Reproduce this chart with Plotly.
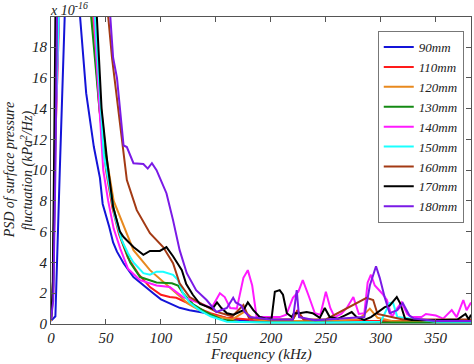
import plotly.graph_objects as go

# ---- data (frequency in kHz, PSD in units of 1e-16 kPa^2/Hz) ----
labels = ["90mm", "110mm", "120mm", "130mm", "140mm", "150mm", "160mm", "170mm", "180mm"]
colors = ["#1414d8", "#ff1a1a", "#e8891e", "#138a13", "#ff1aff", "#1affff", "#a33a14", "#000000", "#7a1ae6"]

x_90 = [0, 4, 8, 12.7, 18, 26.4, 32, 39, 44.5, 47, 53, 56.5, 60, 66, 75, 84, 93, 100, 108, 117, 126, 138, 150, 165, 180, 200, 250, 300, 350, 382]
y_90 = [0.2, 0.5, 10, 20.5, 40, 20, 15, 11.5, 9.5, 7.8, 6.3, 5.3, 4.7, 3.95, 3.05, 2.5, 2.0, 1.6, 1.35, 1.05, 0.9, 0.75, 0.55, 0.3, 0.2, 0.15, 0.12, 0.12, 0.12, 0.12]

x_110 = [0, 2, 4, 6, 20, 38, 44, 50, 56, 62, 70, 80, 90, 100, 108, 114, 124, 135, 145, 160, 180, 200, 220, 224, 230, 260, 300, 350, 382]
y_110 = [0.3, 3, 14, 24, 50, 20, 14, 10, 7.5, 5.8, 4.3, 3.2, 2.4, 1.9, 1.75, 1.7, 1.35, 1.0, 0.7, 0.4, 0.3, 0.25, 0.3, 0.9, 0.25, 0.2, 0.2, 0.2, 0.2]

x_120 = [0, 2, 4, 6, 20, 37, 44, 50, 57, 65.6, 75, 90, 100, 114, 125, 135, 150, 165, 176, 185, 200, 250, 280, 290, 297, 310, 350, 382]
y_120 = [0.2, 2, 12, 24, 50, 20, 15, 11, 8, 6.5, 4.8, 3.5, 2.85, 2.0, 1.3, 0.9, 0.5, 0.3, 0.8, 0.3, 0.2, 0.2, 0.3, 1.0, 0.4, 0.2, 0.15, 0.15]

x_130 = [0, 2, 4, 6, 20, 36.5, 44, 50, 57, 64, 72, 81, 96, 110, 115.5, 120, 129, 140, 155, 170, 200, 250, 300, 350, 382]
y_130 = [0.3, 3, 13, 24, 50, 20, 14, 10.5, 7.5, 5.5, 4.0, 3.05, 2.7, 2.65, 2.5, 2.0, 1.3, 0.8, 0.3, 0.15, 0.1, 0.1, 0.1, 0.1, 0.1]

x_140 = [0, 2, 4, 6, 20, 39, 47.5, 52, 57, 63, 70, 81, 96, 108, 120, 135.5, 146, 153.6, 158, 163, 169, 175, 179, 183, 187, 196, 208, 214, 220, 225, 229, 234, 240, 245, 250, 254, 258, 264, 269, 275, 280, 285, 288, 291, 294.5, 301, 305.5, 310, 315, 319, 324, 328, 337, 341, 350, 356.7, 364.5, 369, 375, 378, 382]
y_140 = [0.3, 2, 12, 24, 50, 20, 10, 8, 6.2, 4.9, 3.6, 2.85, 2.5, 2.4, 1.75, 1.35, 1.04, 2.0, 1.75, 1.04, 1.0, 3.0, 3.5, 2.5, 0.45, 0.45, 0.45, 0.6, 1.7, 2.1, 2.85, 1.9, 0.7, 0.6, 2.1, 1.04, 0.45, 0.65, 1.04, 1.75, 0.65, 0.7, 2.7, 3.2, 2.5, 2.0, 1.56, 0.45, 1.04, 1.4, 0.65, 0.45, 0.45, 0.65, 0.55, 0.35, 0.9, 0.45, 1.56, 0.9, 1.4]

x_150 = [0, 2, 4, 6, 20, 40, 48, 53, 58, 64, 70, 75, 84, 90, 96, 102, 111, 115.5, 120, 126, 135, 145, 160, 200, 250, 300, 308, 311, 315, 350, 382]
y_150 = [0.3, 2.5, 13, 24, 50, 20, 11, 9, 7, 5.5, 4.6, 4.0, 3.3, 3.2, 3.4, 3.4, 3.2, 2.85, 2.0, 1.4, 0.9, 0.5, 0.15, 0.1, 0.1, 0.15, 1.36, 1.4, 0.45, 0.15, 0.15]

x_160 = [0, 2, 4, 6, 25, 52, 55.5, 60, 64.5, 69, 78, 90, 102, 111, 117, 126, 137, 150, 165, 175, 180, 200, 220, 224, 230, 250, 287, 293, 297, 304, 320, 350, 382]
y_160 = [0.3, 2.5, 13, 24, 50, 20, 17.3, 14.7, 12, 9.35, 7.4, 5.9, 5.0, 3.95, 2.65, 1.75, 1.3, 0.8, 0.5, 1.23, 0.4, 0.3, 0.3, 0.8, 0.3, 0.3, 1.7, 1.56, 0.65, 0.55, 0.3, 0.3, 0.3]

x_170 = [0, 1.5, 3, 4.5, 20, 42, 46, 51, 56.5, 62.7, 66, 75, 84, 90, 99, 105, 111, 119, 123, 129, 135.5, 147, 151, 155, 160, 166, 175, 179, 184, 190, 196, 200.6, 203.6, 208, 211, 214.5, 219, 221, 226, 232.5, 238, 244.5, 249, 253.5, 261, 267, 273.5, 278, 285, 291, 297, 303.6, 308, 314.5, 317.5, 322, 328, 350, 370, 377, 380, 382]
y_170 = [0.3, 2, 12, 24, 50, 20, 14, 10.65, 7.6, 6, 5.65, 5.0, 4.5, 4.75, 4.75, 5.0, 4.4, 3.5, 2.6, 1.9, 1.3, 1.0, 1.4, 1.04, 0.7, 0.6, 0.9, 1.4, 0.9, 0.45, 0.35, 0.35, 2.1, 2.2, 1.9, 0.7, 0.45, 0.7, 0.7, 0.78, 0.7, 0.4, 1.04, 0.45, 0.35, 0.55, 0.78, 0.45, 0.26, 0.45, 0.78, 1.1, 1.2, 1.75, 1.36, 0.35, 0.26, 0.25, 0.3, 0.65, 0.3, 0.6]

x_180 = [0, 2, 4, 6, 25, 53.6, 56.5, 60, 63, 66, 69, 75, 84, 88, 91.8, 96, 99, 105, 111, 117, 123.5, 132, 141.5, 150.5, 160, 165.7, 168, 173, 176, 181, 200, 220, 223.5, 225.6, 240, 285, 290, 295.6, 299, 303.6, 308, 315, 320, 326, 330, 350, 382]
y_180 = [0.3, 1.5, 10, 24, 50, 20, 17.3, 16, 14, 11.6, 11.5, 10.45, 10.4, 10.1, 10.45, 10.0, 9.5, 8.5, 6.75, 4.8, 3.3, 2.2, 1.56, 0.78, 1.04, 1.7, 1.4, 1.2, 0.8, 0.45, 0.3, 0.3, 2.2, 0.45, 0.25, 0.45, 2.5, 3.75, 3.0, 1.7, 0.7, 0.9, 1.36, 0.55, 0.35, 0.2, 0.2]

series_x = [x_90, x_110, x_120, x_130, x_140, x_150, x_160, x_170, x_180]
series_y = [y_90, y_110, y_120, y_130, y_140, y_150, y_160, y_170, y_180]

x_ticks = [0, 50, 100, 150, 200, 250, 300, 350]
y_ticks = [0, 2, 4, 6, 8, 10, 12, 14, 16, 18]

SERIF = "Liberation Serif"
TXT = "#222222"

fig = go.Figure()
for name, col, xs, ys in zip(labels, colors, series_x, series_y):
    fig.add_trace(go.Scatter(x=xs, y=ys, mode="lines", name=name,
                             line=dict(color=col, width=2)))

axis_common = dict(showline=True, mirror="ticks", linecolor="#555555", linewidth=1,
                   ticks="inside", ticklen=5, tickcolor="#555555", showgrid=False,
                   zeroline=False,
                   tickfont=dict(family=SERIF, size=15, style="italic", color=TXT))

fig.update_xaxes(range=[0, 382], tickvals=x_ticks, **axis_common)
fig.update_yaxes(range=[0, 19.95], tickvals=y_ticks, **axis_common)

fig.add_annotation(text="Frequency (kHz)", xref="paper", yref="paper",
                   x=0.5, y=-0.098, showarrow=False, xanchor="center", yanchor="middle",
                   font=dict(family=SERIF, size=15, style="italic", color=TXT))
fig.add_annotation(text="PSD of surface pressure", xref="paper", yref="paper",
                   x=-0.098, y=0.5, textangle=-90, showarrow=False,
                   xanchor="center", yanchor="middle",
                   font=dict(family=SERIF, size=14, style="italic", color=TXT))
fig.add_annotation(text="fluctuation (kPa<sup>2</sup>/Hz)", xref="paper", yref="paper",
                   x=-0.057, y=0.5, textangle=-90, showarrow=False,
                   xanchor="center", yanchor="middle",
                   font=dict(family=SERIF, size=14, style="italic", color=TXT))
fig.add_annotation(text="x 10<sup>-16</sup>", xref="paper", yref="paper",
                   x=-0.008, y=1.0, showarrow=False, xanchor="left", yanchor="bottom",
                   yshift=-3,
                   font=dict(family=SERIF, size=14, style="italic", color=TXT))

fig.update_layout(
    width=474, height=364,
    margin=dict(l=51, r=3, t=17, b=40),
    paper_bgcolor="white", plot_bgcolor="white",
    legend=dict(x=0.778, y=0.954, xanchor="left", yanchor="top",
                bgcolor="white", bordercolor="#777777", borderwidth=1,
                font=dict(family=SERIF, size=13, style="italic", color=TXT),
                itemwidth=30, tracegroupgap=0),
    showlegend=True,
)

fig.write_html("out.html", config={"displayModeBar": False},
               post_script="document.body.style.margin='0px';")
